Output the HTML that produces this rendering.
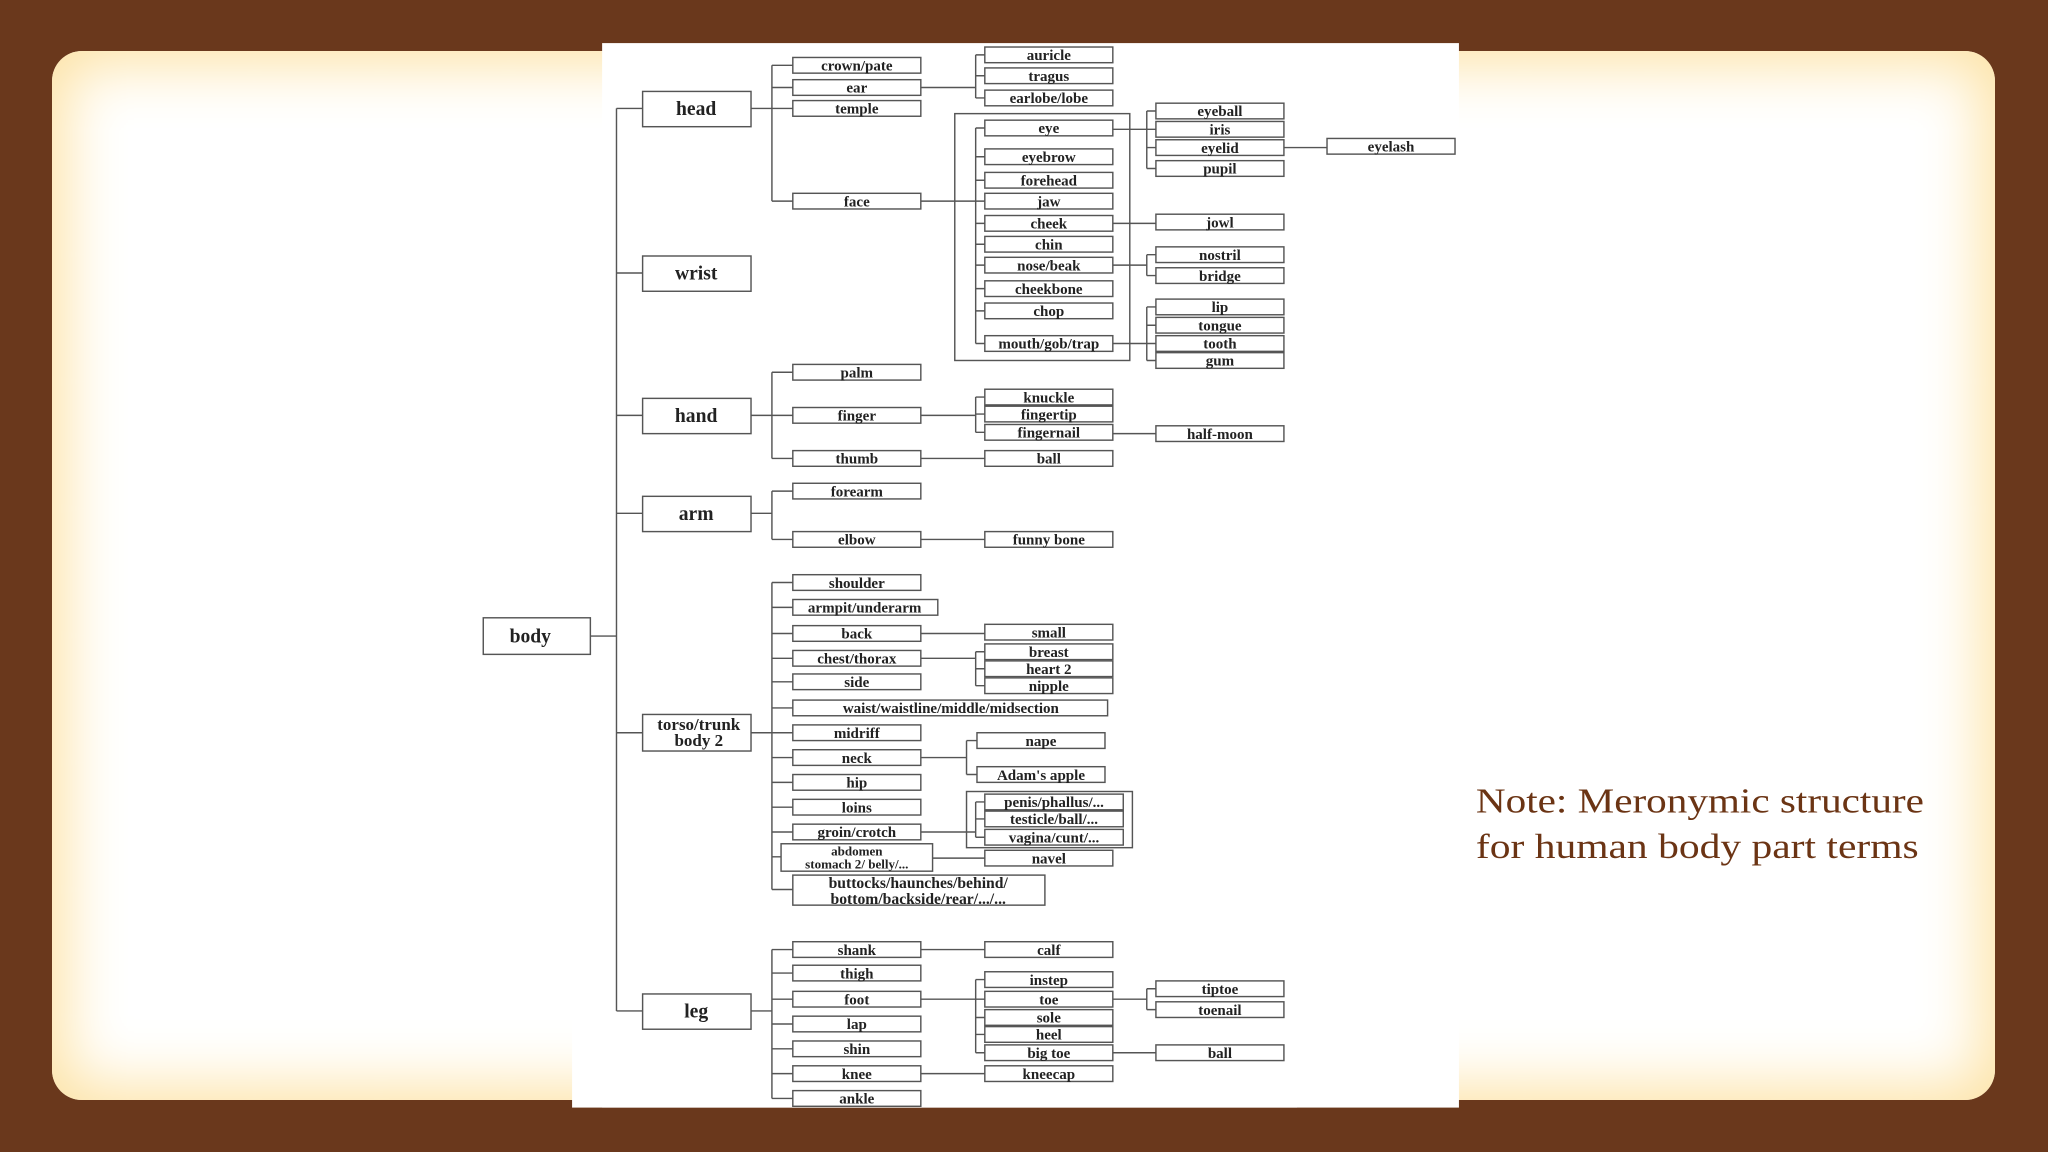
<!DOCTYPE html>
<html><head><meta charset="utf-8"><style>
html,body{margin:0;padding:0;width:2048px;height:1152px;overflow:hidden;background:#6a381c}
#card{position:absolute;left:52px;top:51px;width:1943px;height:1049px;border-radius:30px;background:#fff;box-shadow:inset 0 0 60px 14px #fde3a6}
svg{display:block;position:absolute;left:0;top:0}
.b rect{fill:#fff;stroke:#555;stroke-width:1.1}
.b text{font-family:"Liberation Serif",serif;font-weight:bold;font-size:11.5px;fill:#222;text-anchor:middle}
.b text.big{font-size:15px}
.l{stroke:#555;stroke-width:1.1;fill:none}
</style></head><body>
<div id="card"></div>
<svg width="2048" height="1152" viewBox="0 0 1568 882" xmlns="http://www.w3.org/2000/svg">
<rect x="461" y="33" width="656" height="815" fill="#fff"/>
<rect x="438" y="300" width="555" height="548" fill="#fff"/>

<g class="l">
<path d="M452 487H472M472 83V774M472 83H492M472 209H492M472 318H492M472 393H492M472 561H492M472 774H492"/>
<path d="M575 83H591M591 50V154M591 50H607M591 67H607M591 83H607M591 154H607"/>
<path d="M705 67H747M747 42V75M747 42H754M747 58H754M747 75H754"/>
<path d="M705 154H747M747 98V263M747 98H754M747 120H754M747 138H754M747 154H754M747 171H754M747 187H754M747 203H754M747 221H754M747 238H754M747 263H754"/>
<rect x="731" y="87" width="134" height="189"/>
<path d="M852 99H878M878 85V129M878 85H885M878 99H885M878 113H885M878 129H885"/>
<path d="M983 113H1016"/>
<path d="M852 171H885"/>
<path d="M852 203H878M878 195V211M878 195H885M878 211H885"/>
<path d="M852 263H878M878 235V276M878 235H885M878 249H885M878 263H885M878 276H885"/>
<path d="M575 318H591M591 285V351M591 285H607M591 318H607M591 351H607"/>
<path d="M705 318H747M747 304V331M747 304H754M747 317H754M747 331H754"/>
<path d="M852 332H885M705 351H754"/>
<path d="M575 393H591M591 376V413M591 376H607M591 413H607M705 413H754"/>
<path d="M575 561H591M591 446V681M591 446H607M591 465H607M591 485H607M591 504H607M591 522H607M591 542H607M591 561H607M591 580H607M591 599H607M591 618H607M591 637H607M591 656H598M591 681H607"/>
<path d="M705 485H754M705 504H747M747 499V525M747 499H754M747 512H754M747 525H754"/>
<path d="M705 580H740M740 567V593M740 567H748M740 593H748"/>
<path d="M705 637H747M747 614V641M747 614H754M747 627H754M747 641H754"/>
<rect x="740" y="606" width="127" height="43"/>
<path d="M714 657H754"/>
<path d="M575 774H591M591 727V841M591 727H607M591 745H607M591 765H607M591 784H607M591 803H607M591 822H607M591 841H607"/>
<path d="M705 727H754M705 765H747M747 750V806M747 750H754M747 765H754M747 779H754M747 792H754M747 806H754"/>
<path d="M852 765H878M878 757V773M878 757H885M878 773H885M852 806H885M705 822H754"/>
</g>

<g class="b">
<rect x="370" y="473" width="82" height="28"/><text class="big" x="406" y="492">body</text>
<rect x="492" y="70" width="83" height="27"/><text class="big" x="533" y="88">head</text>
<rect x="492" y="196" width="83" height="27"/><text class="big" x="533" y="214">wrist</text>
<rect x="492" y="305" width="83" height="27"/><text class="big" x="533" y="323">hand</text>
<rect x="492" y="380" width="83" height="27"/><text class="big" x="533" y="398">arm</text>
<rect x="492" y="547" width="83" height="28"/><text x="535" y="559" style="font-size:13px">torso/trunk</text><text x="535" y="571" style="font-size:13px">body 2</text>
<rect x="492" y="761" width="83" height="27"/><text class="big" x="533" y="779">leg</text>

<rect x="607" y="44" width="98" height="12"/><text x="656" y="54">crown/pate</text>
<rect x="607" y="61" width="98" height="12"/><text x="656" y="71">ear</text>
<rect x="607" y="77" width="98" height="12"/><text x="656" y="87">temple</text>
<rect x="607" y="148" width="98" height="12"/><text x="656" y="158">face</text>
<rect x="754" y="36" width="98" height="12"/><text x="803" y="46">auricle</text>
<rect x="754" y="52" width="98" height="12"/><text x="803" y="62">tragus</text>
<rect x="754" y="69" width="98" height="12"/><text x="803" y="79">earlobe/lobe</text>
<rect x="754" y="92" width="98" height="12"/><text x="803" y="102">eye</text>
<rect x="754" y="114" width="98" height="12"/><text x="803" y="124">eyebrow</text>
<rect x="754" y="132" width="98" height="12"/><text x="803" y="142">forehead</text>
<rect x="754" y="148" width="98" height="12"/><text x="803" y="158">jaw</text>
<rect x="754" y="165" width="98" height="12"/><text x="803" y="175">cheek</text>
<rect x="754" y="181" width="98" height="12"/><text x="803" y="191">chin</text>
<rect x="754" y="197" width="98" height="12"/><text x="803" y="207">nose/beak</text>
<rect x="754" y="215" width="98" height="12"/><text x="803" y="225">cheekbone</text>
<rect x="754" y="232" width="98" height="12"/><text x="803" y="242">chop</text>
<rect x="754" y="257" width="98" height="12"/><text x="803" y="267">mouth/gob/trap</text>
<rect x="885" y="79" width="98" height="12"/><text x="934" y="89">eyeball</text>
<rect x="885" y="93" width="98" height="12"/><text x="934" y="103">iris</text>
<rect x="885" y="107" width="98" height="12"/><text x="934" y="117">eyelid</text>
<rect x="885" y="123" width="98" height="12"/><text x="934" y="133">pupil</text>
<rect x="1016" y="106" width="98" height="12"/><text x="1065" y="116">eyelash</text>
<rect x="885" y="164" width="98" height="12"/><text x="934" y="174">jowl</text>
<rect x="885" y="189" width="98" height="12"/><text x="934" y="199">nostril</text>
<rect x="885" y="205" width="98" height="12"/><text x="934" y="215">bridge</text>
<rect x="885" y="229" width="98" height="12"/><text x="934" y="239">lip</text>
<rect x="885" y="243" width="98" height="12"/><text x="934" y="253">tongue</text>
<rect x="885" y="257" width="98" height="12"/><text x="934" y="267">tooth</text>
<rect x="885" y="270" width="98" height="12"/><text x="934" y="280">gum</text>

<rect x="607" y="279" width="98" height="12"/><text x="656" y="289">palm</text>
<rect x="607" y="312" width="98" height="12"/><text x="656" y="322">finger</text>
<rect x="607" y="345" width="98" height="12"/><text x="656" y="355">thumb</text>
<rect x="754" y="298" width="98" height="12"/><text x="803" y="308">knuckle</text>
<rect x="754" y="311" width="98" height="12"/><text x="803" y="321">fingertip</text>
<rect x="754" y="325" width="98" height="12"/><text x="803" y="335">fingernail</text>
<rect x="885" y="326" width="98" height="12"/><text x="934" y="336">half-moon</text>
<rect x="754" y="345" width="98" height="12"/><text x="803" y="355">ball</text>

<rect x="607" y="370" width="98" height="12"/><text x="656" y="380">forearm</text>
<rect x="607" y="407" width="98" height="12"/><text x="656" y="417">elbow</text>
<rect x="754" y="407" width="98" height="12"/><text x="803" y="417">funny bone</text>

<rect x="607" y="440" width="98" height="12"/><text x="656" y="450">shoulder</text>
<rect x="607" y="459" width="111" height="12"/><text x="662" y="469">armpit/underarm</text>
<rect x="607" y="479" width="98" height="12"/><text x="656" y="489">back</text>
<rect x="607" y="498" width="98" height="12"/><text x="656" y="508">chest/thorax</text>
<rect x="607" y="516" width="98" height="12"/><text x="656" y="526">side</text>
<rect x="607" y="536" width="241" height="12"/><text x="728" y="546">waist/waistline/middle/midsection</text>
<rect x="607" y="555" width="98" height="12"/><text x="656" y="565">midriff</text>
<rect x="607" y="574" width="98" height="12"/><text x="656" y="584">neck</text>
<rect x="607" y="593" width="98" height="12"/><text x="656" y="603">hip</text>
<rect x="607" y="612" width="98" height="12"/><text x="656" y="622">loins</text>
<rect x="607" y="631" width="98" height="12"/><text x="656" y="641">groin/crotch</text>
<rect x="598" y="646" width="116" height="21"/><text x="656" y="655" style="font-size:10px">abdomen</text><text x="656" y="665" style="font-size:10px">stomach 2/ belly/...</text>
<rect x="607" y="670" width="193" height="23"/><text x="703" y="680" style="font-size:12px">buttocks/haunches/behind/</text><text x="703" y="692" style="font-size:12px">bottom/backside/rear/.../...</text>
<rect x="754" y="478" width="98" height="12"/><text x="803" y="488">small</text>
<rect x="754" y="493" width="98" height="12"/><text x="803" y="503">breast</text>
<rect x="754" y="506" width="98" height="12"/><text x="803" y="516">heart 2</text>
<rect x="754" y="519" width="98" height="12"/><text x="803" y="529">nipple</text>
<rect x="748" y="561" width="98" height="12"/><text x="797" y="571">nape</text>
<rect x="748" y="587" width="98" height="12"/><text x="797" y="597">Adam's apple</text>
<rect x="754" y="608" width="106" height="12"/><text x="807" y="618">penis/phallus/...</text>
<rect x="754" y="621" width="106" height="12"/><text x="807" y="631">testicle/ball/...</text>
<rect x="754" y="635" width="106" height="12"/><text x="807" y="645">vagina/cunt/...</text>
<rect x="754" y="651" width="98" height="12"/><text x="803" y="661">navel</text>

<rect x="607" y="721" width="98" height="12"/><text x="656" y="731">shank</text>
<rect x="607" y="739" width="98" height="12"/><text x="656" y="749">thigh</text>
<rect x="607" y="759" width="98" height="12"/><text x="656" y="769">foot</text>
<rect x="607" y="778" width="98" height="12"/><text x="656" y="788">lap</text>
<rect x="607" y="797" width="98" height="12"/><text x="656" y="807">shin</text>
<rect x="607" y="816" width="98" height="12"/><text x="656" y="826">knee</text>
<rect x="607" y="835" width="98" height="12"/><text x="656" y="845">ankle</text>
<rect x="754" y="721" width="98" height="12"/><text x="803" y="731">calf</text>
<rect x="754" y="744" width="98" height="12"/><text x="803" y="754">instep</text>
<rect x="754" y="759" width="98" height="12"/><text x="803" y="769">toe</text>
<rect x="754" y="773" width="98" height="12"/><text x="803" y="783">sole</text>
<rect x="754" y="786" width="98" height="12"/><text x="803" y="796">heel</text>
<rect x="754" y="800" width="98" height="12"/><text x="803" y="810">big toe</text>
<rect x="754" y="816" width="98" height="12"/><text x="803" y="826">kneecap</text>
<rect x="885" y="751" width="98" height="12"/><text x="934" y="761">tiptoe</text>
<rect x="885" y="767" width="98" height="12"/><text x="934" y="777">toenail</text>
<rect x="885" y="800" width="98" height="12"/><text x="934" y="810">ball</text>
</g>

<g font-family="Liberation Serif, serif" font-size="27" fill="#6b3414">
<text x="1130" y="622" textLength="343" lengthAdjust="spacingAndGlyphs">Note: Meronymic structure</text>
<text x="1130" y="657" textLength="339" lengthAdjust="spacingAndGlyphs">for human body part terms</text>
</g>
</svg>
</body></html>
